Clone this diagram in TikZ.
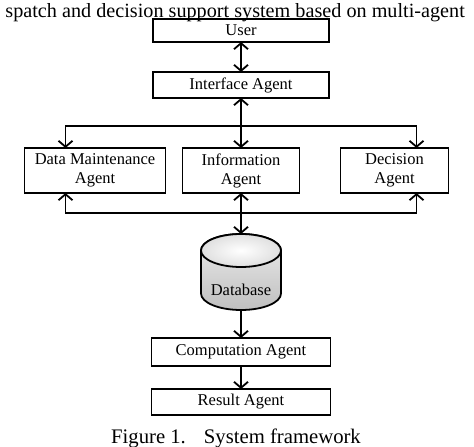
\documentclass[tikz,border=0pt]{standalone}
\usepackage{fontspec}
\setmainfont{Liberation Serif}
\usetikzlibrary{positioning,arrows.meta}

\begin{document}
\begin{tikzpicture}[x=1pt,y=1pt, >={Straight Barb[length=6pt,width=14pt]}, line width=1.8pt,
    agent/.style={draw, rectangle, inner sep=0pt, outer sep=0pt, align=center,
      font=\fontsize{16.5}{19}\selectfont}]
        \useasboundingbox (0,0) rectangle (474,-447);
        \node[anchor=base west, inner sep=0pt, font=\fontsize{20.2}{24}\selectfont] (title) at (4.5,-17)
          {spatch and decision support system based on multi-agent};

        \node[agent, minimum width=176pt, minimum height=23pt] (user) at (241,-30.5) {User};
        \node[agent, minimum width=176pt, minimum height=26pt] (iface) [below = 30pt of user] {Interface Agent};
        \node[agent, minimum width=117pt, minimum height=45pt] (info) [below = 50pt of iface] {Information\\Agent};
        \node[agent, minimum width=141pt, minimum height=45pt] (dm) [left = 17pt of info] {Data Maintenance\\Agent};
        \node[agent, minimum width=108pt, minimum height=45pt] (dec) [right = 41pt of info] {Decision\\Agent};
        \node[minimum width=80pt, minimum height=76pt, inner sep=0pt, outer sep=0pt] (base) [below = 41pt of info] {};
        \node[agent, minimum width=179pt, minimum height=28pt] (comp) [below = 28pt of base] {Computation Agent};
        \node[agent, minimum width=179pt, minimum height=26pt] (res) [below = 23pt of comp] {Result Agent};
        \node[anchor=base, inner sep=0pt, font=\fontsize{20.7}{24}\selectfont] (caption) at (236,-443)
          {Figure 1.\hspace{18pt}System framework};

        % database drum
        \draw[top color=gray!15, bottom color=gray!50]
          ([yshift=-16.5pt]base.north west) -- ([yshift=16.5pt]base.south west)
          arc[start angle=180, end angle=360, x radius=40pt, y radius=16.5pt]
          -- ([yshift=-16.5pt]base.north east)
          arc[start angle=0, end angle=180, x radius=40pt, y radius=16.5pt] -- cycle;
        \draw[inner color=white, outer color=gray!25]
          ([yshift=-16.5pt]base.north) ellipse [x radius=40pt, y radius=16.5pt];
        \node[font=\fontsize{16.5}{19}\selectfont, inner sep=0pt] (dbname) at ([yshift=-18pt]base.center) {Database};

        % upper bus
        \draw[<->] (user) -- (iface);
        \draw[<->] (iface) -- (info);
        \draw[->] ([yshift=22pt]info.north) -| ([xshift=-29.5pt]dm.north);
        \draw[->] ([yshift=22pt]info.north) -| ([xshift=22pt]dec.north);
        % lower bus
        \draw[->] ([yshift=-20pt]info.south) -| ([xshift=-29.5pt]dm.south);
        \draw[->] ([yshift=-20pt]info.south) -| ([xshift=22pt]dec.south);
        \draw[<->] (info) -- (base);
        \draw[->] (base) -- (comp);
        \draw[->] (comp) -- (res);
      \end{tikzpicture}
\end{document}
